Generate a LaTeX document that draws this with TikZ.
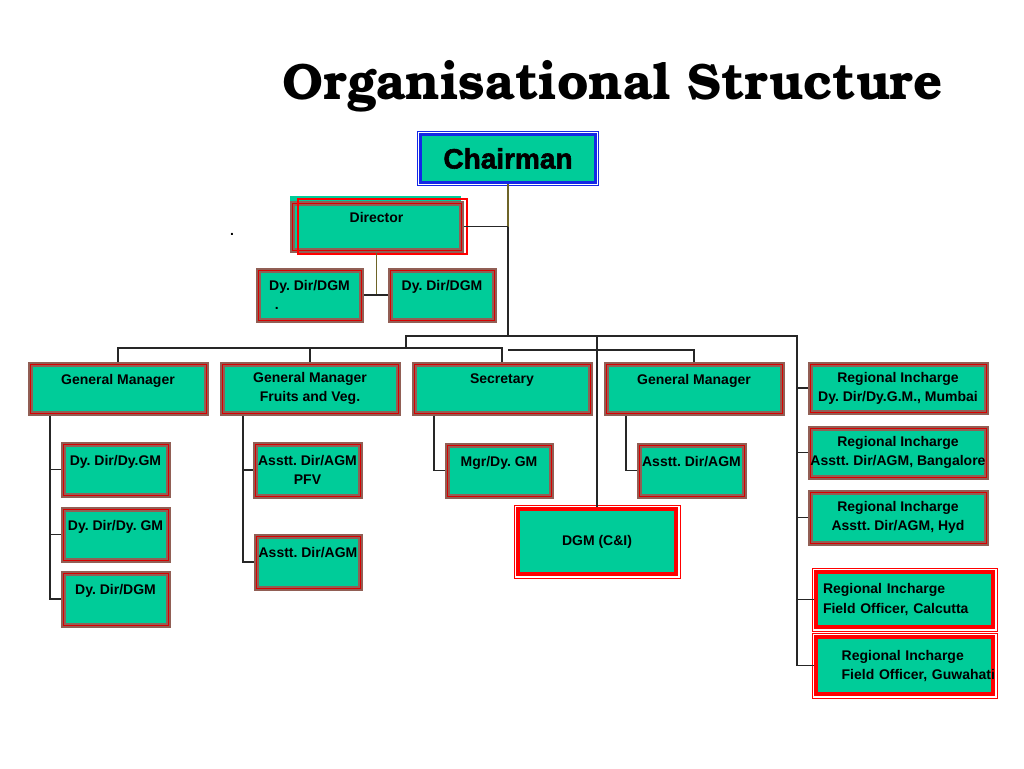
\documentclass[tikz,border=0pt]{standalone}
\usepackage{fontspec}
\setmainfont{Liberation Sans}
\newfontfamily\titlefont{texgyrebonum-bold.otf}
\newfontfamily\heavyfont{Liberation Sans}[BoldFeatures={FakeBold=2}]
\frenchspacing

\definecolor{boxfill}{RGB}{0,204,153}
\definecolor{boxbrown}{RGB}{145,95,85}
\definecolor{oliveline}{RGB}{110,100,40}
\definecolor{chairblue}{RGB}{20,40,230}

\def\pxu{0.75pt}

\tikzset{
  boxfont/.style={font=\bfseries\fontsize{10.5}{14.25}\selectfont},
  orgbox/.style={boxfont, draw=boxbrown, fill=boxfill, line width=5*\pxu,
    postaction={draw=red!85!black, line width=1*\pxu}, align=center, inner sep=0pt},
  redbox/.style={boxfont, fill=boxfill, preaction={draw=red, line width=9*\pxu},
    preaction={draw=white, line width=7*\pxu}, draw=red, line width=4*\pxu, inner sep=0pt},
  chairbox/.style={fill=boxfill, preaction={draw=chairblue, line width=7.6*\pxu},
    preaction={draw=white, line width=5*\pxu}, draw=chairblue, line width=3*\pxu,
    font=\heavyfont\bfseries\fontsize{21}{25}\selectfont, inner sep=0pt},
  link/.style={draw=black!85, line width=1.5*\pxu},
  olivelink/.style={draw=oliveline, line width=1.5*\pxu},
}

\begin{document}
\begin{tikzpicture}[x=0.75pt, y=-0.75pt]
% page
\fill[white] (0,0) rectangle (1024,768);
\useasboundingbox (0,0) rectangle (1024,768);

% title
\node[anchor=base, font=\titlefont\fontsize{38.3}{43}\selectfont] (title) at (613,99) {Organisational Structure};

% chairman and director
\node[chairbox, minimum width=175*\pxu, minimum height=48*\pxu] (chair) at (508,158.5) {Chairman};
\fill[boxfill] (290,196) rectangle (461,202);
\node[orgbox, minimum width=169*\pxu, minimum height=47*\pxu] (dir) at (376.5,226.5) {Director\\\mbox{}};
\draw[red, line width=1.2*\pxu] (298,199) rectangle (467,254);
\node[boxfont] (dot) at (232,234) {.};
\node[orgbox, minimum width=103*\pxu, minimum height=50*\pxu] (dyA) at (309.5,295) {Dy. Dir/DGM\\\llap{.\hspace{23pt}}};
\node[orgbox, minimum width=104*\pxu, minimum height=50*\pxu] (dyB) at (442,295) {Dy. Dir/DGM\\\mbox{}};

% second row
\node[orgbox, minimum width=176*\pxu, minimum height=49*\pxu] (gmA) at (118,388.5) {General Manager\\\mbox{}};
\node[orgbox, minimum width=176*\pxu, minimum height=49*\pxu] (gmB) at (310,388.5) {General Manager\\Fruits and Veg.};
\node[orgbox, minimum width=176*\pxu, minimum height=49*\pxu] (sec) at (502,388.5) {Secretary\\\mbox{}};
\node[orgbox, minimum width=176*\pxu, minimum height=49*\pxu] (gmC) at (694,388.5) {General Manager\\\mbox{}};

% sub boxes
\node[orgbox, minimum width=105*\pxu, minimum height=51*\pxu] (subA1) at (115.5,469.5) {Dy. Dir/Dy.GM\\\mbox{}};
\node[orgbox, minimum width=105*\pxu, minimum height=51*\pxu] (subA2) at (115.5,534.5) {Dy. Dir/Dy. GM\\\mbox{}};
\node[orgbox, minimum width=105*\pxu, minimum height=52*\pxu] (subA3) at (115.5,599) {Dy. Dir/DGM\\\mbox{}};
\node[orgbox, minimum width=105*\pxu, minimum height=52*\pxu] (subB1) at (307.5,470) {Asstt. Dir/AGM\\PFV};
\node[orgbox, minimum width=104*\pxu, minimum height=52*\pxu] (subB2) at (308,562) {Asstt. Dir/AGM\\\mbox{}};
\node[orgbox, minimum width=104*\pxu, minimum height=51*\pxu] (subC1) at (499,470.5) {Mgr/Dy. GM\\\mbox{}};
\node[orgbox, minimum width=105*\pxu, minimum height=51*\pxu] (subD1) at (691.5,470.5) {Asstt. Dir/AGM\\\mbox{}};
\node[redbox, minimum width=158*\pxu, minimum height=65*\pxu] (dgm) at (597,541.5) {DGM (C\&I)};

% regional boxes
\node[orgbox, minimum width=176*\pxu, minimum height=48*\pxu] (rgA) at (898,388) {Regional Incharge\\Dy. Dir/Dy.G.M., Mumbai};
\node[orgbox, minimum width=176*\pxu, minimum height=49*\pxu] (rgB) at (898,452.5) {Regional Incharge\\Asstt. Dir/AGM, Bangalore};
\node[orgbox, minimum width=176*\pxu, minimum height=51*\pxu] (rgC) at (898,517.5) {Regional Incharge\\Asstt. Dir/AGM, Hyd};
\node[redbox, align=left, text width=163*\pxu, inner xsep=7*\pxu, minimum height=55*\pxu] (rgD) at (904.5,599.5) {\mbox{Regional Incharge}\\\mbox{Field Officer, Calcutta}};
\node[redbox, align=left, text width=163*\pxu, inner xsep=7*\pxu, minimum height=57*\pxu] (rgE) at (904.5,665.5) {\hspace*{14pt}\mbox{Regional Incharge}\\\hspace*{14pt}\mbox{Field Officer, Guwahati}};

% joints
\coordinate (jA) at (508,336);
\coordinate (jB) at (406,348);
\coordinate (jC) at (508,350);
\coordinate (jR) at (797,336);
\coordinate (tA) at (50,0);
\coordinate (tB) at (243,0);
\coordinate (tC) at (434,0);
\coordinate (tD) at (626,0);

% connectors
\draw[olivelink] (chair.south) -- (chair.south |- dir.east);
\draw[link] (chair.south |- dir.east) -- (jA);
\draw[link] (dir.east) -- (dir.east -| chair.south);
\draw[olivelink] (dir.south) -- (dir.south |- dyA.east);
\draw[link] (dyA.east) -- (dyB.west);

\draw[link] (jA) -| (jB);
\draw[link] (gmA.north) |- (sec.north |- jB) -- (sec.north);
\draw[link] (gmB.north) -- (gmB.north |- jB);
\draw[link] (jC) -| (gmC.north);
\draw[link] (dgm.north |- jA) -- (dgm.north);
\draw[link] (jA) -- (jR) |- (rgE.west);
\foreach \r in {rgA,rgB,rgC,rgD}
  \draw[link] (jR |- \r.west) -- (\r.west);

\draw[link] (gmA.south -| tA) |- (subA3.west);
\foreach \s in {subA1,subA2}
  \draw[link] (tA |- \s.west) -- (\s.west);
\draw[link] (gmB.south -| tB) |- (subB2.west);
\draw[link] (tB |- subB1.west) -- (subB1.west);
\draw[link] (sec.south -| tC) |- (subC1.west);
\draw[link] (gmC.south -| tD) |- (subD1.west);
\end{tikzpicture}
\end{document}
